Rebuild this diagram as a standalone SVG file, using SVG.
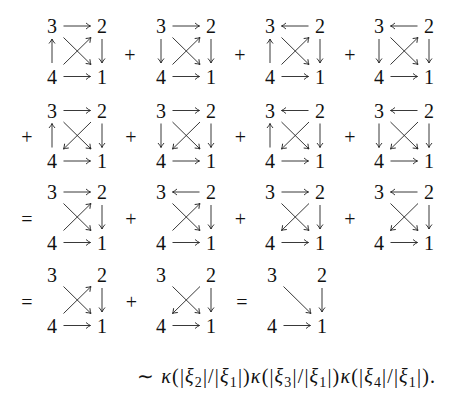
<svg xmlns="http://www.w3.org/2000/svg" width="474" height="405" viewBox="0 0 474 405">
<style>
.t{font-family:"Liberation Serif",serif;font-size:20px;fill:#111;text-anchor:middle}
.e line{stroke:#222;stroke-width:0.9;fill:none;marker-end:url(#ah)}
.i{font-style:italic}
.s{font-size:14px}
</style>
<defs>
<marker id="ah" markerUnits="userSpaceOnUse" viewBox="-6 -4 7 8" refX="0" refY="0" markerWidth="7" markerHeight="8" orient="auto">
<path d="M-4.5,-3 Q-1.8,-0.7 0,0 Q-1.8,0.7 -4.5,3" fill="none" stroke="#222" stroke-width="0.9"/>
</marker>
</defs>
<rect width="474" height="405" fill="#fff"/>

<g id="r1d1">
<g id="r1d1-3"><text class="t" font-family="Liberation Serif, serif" font-size="20" x="52" y="33">3</text></g>
<g id="r1d1-2"><text class="t" font-family="Liberation Serif, serif" font-size="20" x="102" y="33">2</text></g>
<g id="r1d1-4"><text class="t" font-family="Liberation Serif, serif" font-size="20" x="52" y="83.5">4</text></g>
<g id="r1d1-1"><text class="t" font-family="Liberation Serif, serif" font-size="20" x="102" y="83.5">1</text></g>
<g id="r1d1-edges" class="e">
<line x1="63.5" y1="26" x2="90.5" y2="26"/>
<line x1="52" y1="63" x2="52" y2="39"/>
<line x1="102" y1="39" x2="102" y2="63"/>
<line x1="63.5" y1="76.5" x2="90.5" y2="76.5"/>
<line x1="63.5" y1="37.5" x2="91" y2="64.5"/>
<line x1="63.5" y1="64.5" x2="91" y2="37.5"/>
</g>
</g>
<g id="r1d2">
<g id="r1d2-3"><text class="t" font-family="Liberation Serif, serif" font-size="20" x="161" y="33">3</text></g>
<g id="r1d2-2"><text class="t" font-family="Liberation Serif, serif" font-size="20" x="211" y="33">2</text></g>
<g id="r1d2-4"><text class="t" font-family="Liberation Serif, serif" font-size="20" x="161" y="83.5">4</text></g>
<g id="r1d2-1"><text class="t" font-family="Liberation Serif, serif" font-size="20" x="211" y="83.5">1</text></g>
<g id="r1d2-edges" class="e">
<line x1="172.5" y1="26" x2="199.5" y2="26"/>
<line x1="161" y1="39" x2="161" y2="63"/>
<line x1="211" y1="39" x2="211" y2="63"/>
<line x1="172.5" y1="76.5" x2="199.5" y2="76.5"/>
<line x1="172.5" y1="37.5" x2="200" y2="64.5"/>
<line x1="172.5" y1="64.5" x2="200" y2="37.5"/>
</g>
</g>
<g id="r1d3">
<g id="r1d3-3"><text class="t" font-family="Liberation Serif, serif" font-size="20" x="270" y="33">3</text></g>
<g id="r1d3-2"><text class="t" font-family="Liberation Serif, serif" font-size="20" x="320" y="33">2</text></g>
<g id="r1d3-4"><text class="t" font-family="Liberation Serif, serif" font-size="20" x="270" y="83.5">4</text></g>
<g id="r1d3-1"><text class="t" font-family="Liberation Serif, serif" font-size="20" x="320" y="83.5">1</text></g>
<g id="r1d3-edges" class="e">
<line x1="308.5" y1="26" x2="281.5" y2="26"/>
<line x1="270" y1="63" x2="270" y2="39"/>
<line x1="320" y1="39" x2="320" y2="63"/>
<line x1="281.5" y1="76.5" x2="308.5" y2="76.5"/>
<line x1="281.5" y1="37.5" x2="309" y2="64.5"/>
<line x1="281.5" y1="64.5" x2="309" y2="37.5"/>
</g>
</g>
<g id="r1d4">
<g id="r1d4-3"><text class="t" font-family="Liberation Serif, serif" font-size="20" x="379" y="33">3</text></g>
<g id="r1d4-2"><text class="t" font-family="Liberation Serif, serif" font-size="20" x="429" y="33">2</text></g>
<g id="r1d4-4"><text class="t" font-family="Liberation Serif, serif" font-size="20" x="379" y="83.5">4</text></g>
<g id="r1d4-1"><text class="t" font-family="Liberation Serif, serif" font-size="20" x="429" y="83.5">1</text></g>
<g id="r1d4-edges" class="e">
<line x1="417.5" y1="26" x2="390.5" y2="26"/>
<line x1="379" y1="39" x2="379" y2="63"/>
<line x1="429" y1="39" x2="429" y2="63"/>
<line x1="390.5" y1="76.5" x2="417.5" y2="76.5"/>
<line x1="390.5" y1="37.5" x2="418" y2="64.5"/>
<line x1="390.5" y1="64.5" x2="418" y2="37.5"/>
</g>
</g>
<g id="r1ops">
<text class="t" font-family="Liberation Serif, serif" font-size="20" x="130" y="62">+</text>
<text class="t" font-family="Liberation Serif, serif" font-size="20" x="240" y="62">+</text>
<text class="t" font-family="Liberation Serif, serif" font-size="20" x="350" y="62">+</text>
</g>

<g id="r2d1">
<g id="r2d1-3"><text class="t" font-family="Liberation Serif, serif" font-size="20" x="52" y="117.5">3</text></g>
<g id="r2d1-2"><text class="t" font-family="Liberation Serif, serif" font-size="20" x="102" y="117.5">2</text></g>
<g id="r2d1-4"><text class="t" font-family="Liberation Serif, serif" font-size="20" x="52" y="168">4</text></g>
<g id="r2d1-1"><text class="t" font-family="Liberation Serif, serif" font-size="20" x="102" y="168">1</text></g>
<g id="r2d1-edges" class="e">
<line x1="63.5" y1="110.5" x2="90.5" y2="110.5"/>
<line x1="52" y1="147.5" x2="52" y2="123.5"/>
<line x1="102" y1="123.5" x2="102" y2="147.5"/>
<line x1="63.5" y1="161" x2="90.5" y2="161"/>
<line x1="63.5" y1="122" x2="91" y2="149"/>
<line x1="91" y1="122" x2="63.5" y2="149"/>
</g>
</g>
<g id="r2d2">
<g id="r2d2-3"><text class="t" font-family="Liberation Serif, serif" font-size="20" x="161" y="117.5">3</text></g>
<g id="r2d2-2"><text class="t" font-family="Liberation Serif, serif" font-size="20" x="211" y="117.5">2</text></g>
<g id="r2d2-4"><text class="t" font-family="Liberation Serif, serif" font-size="20" x="161" y="168">4</text></g>
<g id="r2d2-1"><text class="t" font-family="Liberation Serif, serif" font-size="20" x="211" y="168">1</text></g>
<g id="r2d2-edges" class="e">
<line x1="172.5" y1="110.5" x2="199.5" y2="110.5"/>
<line x1="161" y1="123.5" x2="161" y2="147.5"/>
<line x1="211" y1="123.5" x2="211" y2="147.5"/>
<line x1="172.5" y1="161" x2="199.5" y2="161"/>
<line x1="172.5" y1="122" x2="200" y2="149"/>
<line x1="200" y1="122" x2="172.5" y2="149"/>
</g>
</g>
<g id="r2d3">
<g id="r2d3-3"><text class="t" font-family="Liberation Serif, serif" font-size="20" x="270" y="117.5">3</text></g>
<g id="r2d3-2"><text class="t" font-family="Liberation Serif, serif" font-size="20" x="320" y="117.5">2</text></g>
<g id="r2d3-4"><text class="t" font-family="Liberation Serif, serif" font-size="20" x="270" y="168">4</text></g>
<g id="r2d3-1"><text class="t" font-family="Liberation Serif, serif" font-size="20" x="320" y="168">1</text></g>
<g id="r2d3-edges" class="e">
<line x1="308.5" y1="110.5" x2="281.5" y2="110.5"/>
<line x1="270" y1="147.5" x2="270" y2="123.5"/>
<line x1="320" y1="123.5" x2="320" y2="147.5"/>
<line x1="281.5" y1="161" x2="308.5" y2="161"/>
<line x1="281.5" y1="122" x2="309" y2="149"/>
<line x1="309" y1="122" x2="281.5" y2="149"/>
</g>
</g>
<g id="r2d4">
<g id="r2d4-3"><text class="t" font-family="Liberation Serif, serif" font-size="20" x="379" y="117.5">3</text></g>
<g id="r2d4-2"><text class="t" font-family="Liberation Serif, serif" font-size="20" x="429" y="117.5">2</text></g>
<g id="r2d4-4"><text class="t" font-family="Liberation Serif, serif" font-size="20" x="379" y="168">4</text></g>
<g id="r2d4-1"><text class="t" font-family="Liberation Serif, serif" font-size="20" x="429" y="168">1</text></g>
<g id="r2d4-edges" class="e">
<line x1="417.5" y1="110.5" x2="390.5" y2="110.5"/>
<line x1="379" y1="123.5" x2="379" y2="147.5"/>
<line x1="429" y1="123.5" x2="429" y2="147.5"/>
<line x1="390.5" y1="161" x2="417.5" y2="161"/>
<line x1="390.5" y1="122" x2="418" y2="149"/>
<line x1="418" y1="122" x2="390.5" y2="149"/>
</g>
</g>
<g id="r2ops">
<text class="t" font-family="Liberation Serif, serif" font-size="20" x="27" y="144">+</text>
<text class="t" font-family="Liberation Serif, serif" font-size="20" x="131" y="144">+</text>
<text class="t" font-family="Liberation Serif, serif" font-size="20" x="240.5" y="144">+</text>
<text class="t" font-family="Liberation Serif, serif" font-size="20" x="350" y="144">+</text>
</g>

<g id="r3d1">
<g id="r3d1-3"><text class="t" font-family="Liberation Serif, serif" font-size="20" x="52" y="199">3</text></g>
<g id="r3d1-2"><text class="t" font-family="Liberation Serif, serif" font-size="20" x="102" y="199">2</text></g>
<g id="r3d1-4"><text class="t" font-family="Liberation Serif, serif" font-size="20" x="52" y="249.5">4</text></g>
<g id="r3d1-1"><text class="t" font-family="Liberation Serif, serif" font-size="20" x="102" y="249.5">1</text></g>
<g id="r3d1-edges" class="e">
<line x1="63.5" y1="192" x2="90.5" y2="192"/>
<line x1="102" y1="205" x2="102" y2="229"/>
<line x1="63.5" y1="242.5" x2="90.5" y2="242.5"/>
<line x1="63.5" y1="203.5" x2="91" y2="230.5"/>
<line x1="63.5" y1="230.5" x2="91" y2="203.5"/>
</g>
</g>
<g id="r3d2">
<g id="r3d2-3"><text class="t" font-family="Liberation Serif, serif" font-size="20" x="161" y="199">3</text></g>
<g id="r3d2-2"><text class="t" font-family="Liberation Serif, serif" font-size="20" x="211" y="199">2</text></g>
<g id="r3d2-4"><text class="t" font-family="Liberation Serif, serif" font-size="20" x="161" y="249.5">4</text></g>
<g id="r3d2-1"><text class="t" font-family="Liberation Serif, serif" font-size="20" x="211" y="249.5">1</text></g>
<g id="r3d2-edges" class="e">
<line x1="199.5" y1="192" x2="172.5" y2="192"/>
<line x1="211" y1="205" x2="211" y2="229"/>
<line x1="172.5" y1="242.5" x2="199.5" y2="242.5"/>
<line x1="172.5" y1="203.5" x2="200" y2="230.5"/>
<line x1="172.5" y1="230.5" x2="200" y2="203.5"/>
</g>
</g>
<g id="r3d3">
<g id="r3d3-3"><text class="t" font-family="Liberation Serif, serif" font-size="20" x="270" y="199">3</text></g>
<g id="r3d3-2"><text class="t" font-family="Liberation Serif, serif" font-size="20" x="320" y="199">2</text></g>
<g id="r3d3-4"><text class="t" font-family="Liberation Serif, serif" font-size="20" x="270" y="249.5">4</text></g>
<g id="r3d3-1"><text class="t" font-family="Liberation Serif, serif" font-size="20" x="320" y="249.5">1</text></g>
<g id="r3d3-edges" class="e">
<line x1="281.5" y1="192" x2="308.5" y2="192"/>
<line x1="320" y1="205" x2="320" y2="229"/>
<line x1="281.5" y1="242.5" x2="308.5" y2="242.5"/>
<line x1="281.5" y1="203.5" x2="309" y2="230.5"/>
<line x1="309" y1="203.5" x2="281.5" y2="230.5"/>
</g>
</g>
<g id="r3d4">
<g id="r3d4-3"><text class="t" font-family="Liberation Serif, serif" font-size="20" x="379" y="199">3</text></g>
<g id="r3d4-2"><text class="t" font-family="Liberation Serif, serif" font-size="20" x="429" y="199">2</text></g>
<g id="r3d4-4"><text class="t" font-family="Liberation Serif, serif" font-size="20" x="379" y="249.5">4</text></g>
<g id="r3d4-1"><text class="t" font-family="Liberation Serif, serif" font-size="20" x="429" y="249.5">1</text></g>
<g id="r3d4-edges" class="e">
<line x1="417.5" y1="192" x2="390.5" y2="192"/>
<line x1="429" y1="205" x2="429" y2="229"/>
<line x1="390.5" y1="242.5" x2="417.5" y2="242.5"/>
<line x1="390.5" y1="203.5" x2="418" y2="230.5"/>
<line x1="418" y1="203.5" x2="390.5" y2="230.5"/>
</g>
</g>
<g id="r3ops">
<text class="t" font-family="Liberation Serif, serif" font-size="20" x="27" y="225.75">=</text>
<text class="t" font-family="Liberation Serif, serif" font-size="20" x="131" y="225.75">+</text>
<text class="t" font-family="Liberation Serif, serif" font-size="20" x="240.5" y="225.75">+</text>
<text class="t" font-family="Liberation Serif, serif" font-size="20" x="350" y="225.75">+</text>
</g>

<g id="r4d1">
<g id="r4d1-3"><text class="t" font-family="Liberation Serif, serif" font-size="20" x="52" y="282">3</text></g>
<g id="r4d1-2"><text class="t" font-family="Liberation Serif, serif" font-size="20" x="102" y="282">2</text></g>
<g id="r4d1-4"><text class="t" font-family="Liberation Serif, serif" font-size="20" x="52" y="332.5">4</text></g>
<g id="r4d1-1"><text class="t" font-family="Liberation Serif, serif" font-size="20" x="102" y="332.5">1</text></g>
<g id="r4d1-edges" class="e">
<line x1="102" y1="288" x2="102" y2="312"/>
<line x1="63.5" y1="325.5" x2="90.5" y2="325.5"/>
<line x1="63.5" y1="286.5" x2="91" y2="313.5"/>
<line x1="63.5" y1="313.5" x2="91" y2="286.5"/>
</g>
</g>
<g id="r4d2">
<g id="r4d2-3"><text class="t" font-family="Liberation Serif, serif" font-size="20" x="161" y="282">3</text></g>
<g id="r4d2-2"><text class="t" font-family="Liberation Serif, serif" font-size="20" x="211" y="282">2</text></g>
<g id="r4d2-4"><text class="t" font-family="Liberation Serif, serif" font-size="20" x="161" y="332.5">4</text></g>
<g id="r4d2-1"><text class="t" font-family="Liberation Serif, serif" font-size="20" x="211" y="332.5">1</text></g>
<g id="r4d2-edges" class="e">
<line x1="211" y1="288" x2="211" y2="312"/>
<line x1="172.5" y1="325.5" x2="199.5" y2="325.5"/>
<line x1="172.5" y1="286.5" x2="200" y2="313.5"/>
<line x1="200" y1="286.5" x2="172.5" y2="313.5"/>
</g>
</g>
<g id="r4d3">
<g id="r4d3-3"><text class="t" font-family="Liberation Serif, serif" font-size="20" x="272" y="282">3</text></g>
<g id="r4d3-2"><text class="t" font-family="Liberation Serif, serif" font-size="20" x="322" y="282">2</text></g>
<g id="r4d3-4"><text class="t" font-family="Liberation Serif, serif" font-size="20" x="272" y="332.5">4</text></g>
<g id="r4d3-1"><text class="t" font-family="Liberation Serif, serif" font-size="20" x="322" y="332.5">1</text></g>
<g id="r4d3-edges" class="e">
<line x1="322" y1="288" x2="322" y2="312"/>
<line x1="283.5" y1="325.5" x2="310.5" y2="325.5"/>
<line x1="283.5" y1="286.5" x2="311" y2="313.5"/>
</g>
</g>
<g id="r4ops">
<text class="t" font-family="Liberation Serif, serif" font-size="20" x="27" y="308.75">=</text>
<text class="t" font-family="Liberation Serif, serif" font-size="20" x="131.5" y="308.75">+</text>
<text class="t" font-family="Liberation Serif, serif" font-size="20" x="242" y="308.75">=</text>
</g>

<g id="formula">
<text font-family="Liberation Serif, serif" font-size="20" fill="#111" x="137" y="383" textLength="298" lengthAdjust="spacing">∼ <tspan class="i">κ</tspan>(|<tspan class="i">ξ</tspan><tspan class="s" dy="4">2</tspan><tspan dy="-4">|/|</tspan><tspan class="i">ξ</tspan><tspan class="s" dy="4">1</tspan><tspan dy="-4">|)</tspan><tspan class="i">κ</tspan>(|<tspan class="i">ξ</tspan><tspan class="s" dy="4">3</tspan><tspan dy="-4">|/|</tspan><tspan class="i">ξ</tspan><tspan class="s" dy="4">1</tspan><tspan dy="-4">|)</tspan><tspan class="i">κ</tspan>(|<tspan class="i">ξ</tspan><tspan class="s" dy="4">4</tspan><tspan dy="-4">|/|</tspan><tspan class="i">ξ</tspan><tspan class="s" dy="4">1</tspan><tspan dy="-4">|).</tspan></text>
</g>
</svg>
